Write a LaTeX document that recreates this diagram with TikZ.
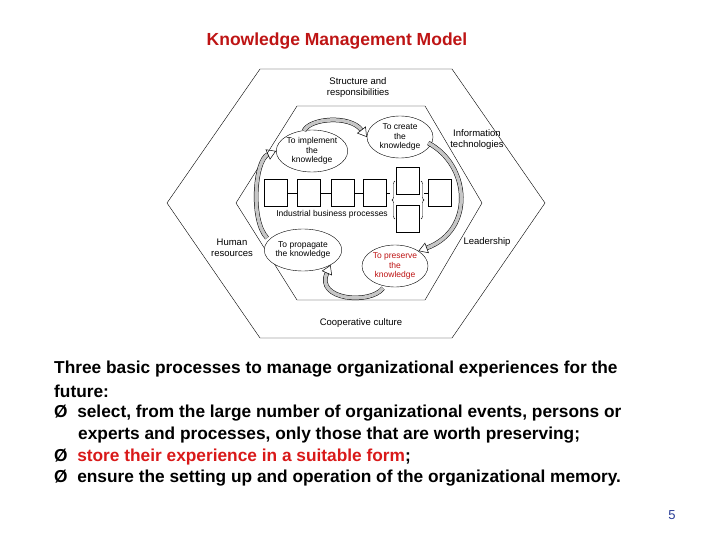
\documentclass[tikz,border=0pt]{standalone}
\usepackage{fontspec}
\setmainfont{Liberation Sans}
\usetikzlibrary{arrows.meta,decorations.pathreplacing,shapes.geometric}
\begin{document}
\begin{tikzpicture}[x=1pt,y=-1pt,
  lbl/.style={font=\fontsize{9.5}{11}\selectfont,align=center,inner sep=0pt},
  proc/.style={draw,ellipse,minimum width=66pt,minimum height=42pt,fill=white,font=\fontsize{8.5}{9.5}\selectfont,align=center,inner sep=0pt},
  bx/.style={draw,minimum width=23pt,minimum height=27pt,inner sep=0pt,fill=white},
  flow/.style={draw,double=gray!45,double distance=3.5pt,line width=0.5pt,-{Triangle[open,length=9pt,width=11pt]}},
  body/.style={font=\bfseries\fontsize{17.3}{20}\selectfont,anchor=west,inner sep=0pt}]
\useasboundingbox (0,0) rectangle (720,540);
\node[font=\bfseries\fontsize{17.5}{20}\selectfont,text={rgb,255:red,190;green,20;blue,20}] (title) at (337,41) {Knowledge Management Model};
\draw (260,69) -- (452,69) -- (545,203) -- (452,338) -- (260,338) -- (167,203) -- cycle;
\draw (297,106) -- (425,106) -- (482,203) -- (425,300) -- (297,300) -- (236,203) -- cycle;
\node[lbl] (sr) at (358,88) {Structure and\\responsibilities};
\node[lbl] (it) at (477,140) {Information\\technologies};
\node[lbl] (hr) at (232,248) {Human\\resources};
\node[lbl] (ld) at (487,242) {Leadership};
\node[lbl] (cc) at (361,323) {Cooperative culture};
% boxes
\node[bx] (b1) at (276,193) {};
\node[bx] (b2) at (309,193) {};
\node[bx] (b3) at (343,193) {};
\node[bx] (b4) at (375,193) {};
\node[bx] (b5) at (408,181) {};
\node[bx] (b6) at (408,219) {};
\node[bx] (b7) at (440,193) {};
\draw (b1) -- (b2); \draw (b2) -- (b3); \draw (b3) -- (b4);
\draw (b4.east) -- (390,193);
\draw[decorate,decoration={brace,amplitude=3pt}] (395,219) -- (395,181);
\draw[decorate,decoration={brace,amplitude=3pt}] (421,181) -- (421,219);
\draw (424,193) -- (b7.west);
\node[lbl,font=\fontsize{8.5}{10}\selectfont] (ibp) at (332,214) {Industrial business processes};
% processes
\node[proc] (impl) at (312,151) {To implement\\the\\knowledge};
\node[proc] (crea) at (400,137) {To create\\the\\knowledge};
\node[proc] (prop) at (303,250) {To propagate\\the knowledge};
\node[proc,text={rgb,255:red,190;green,20;blue,20}] (pres) at (395,266) {To preserve\\the\\knowledge};
% flows
\draw[flow] (impl.north) ++(-8,1) .. controls (310,118) and (350,115) .. (crea.west);
\draw[flow] (crea.east) ++(-5,6) .. controls (470,165) and (475,230) .. (pres.north east);
\draw[flow] (pres.south) ++(-12,1) .. controls (370,305) and (315,300) .. (prop.south east);
\draw[flow] (prop.west) ++(3,-12) .. controls (250,220) and (255,160) .. (impl.west);
% text
\node[body] (t1) at (54,369) {Three basic processes to manage organizational experiences for the};
\node[body] (t2) at (54,391) {future:};
\node[body] (t3) at (54,413) {Ø\ \ select, from the large number of organizational events, persons or};
\node[body] (t4) at (78,435) {experts and processes, only those that are worth preserving;};
\node[body] (t5) at (54,457) {Ø\ \ \textcolor[rgb]{0.85,0.1,0.1}{store their experience in a suitable form};};
\node[body] (t6) at (54,478) {Ø\ \ ensure the setting up and operation of the organizational memory.};
\node[font=\fontsize{13}{14}\selectfont,text={rgb,255:red,40;green,60;blue,150}] (pg) at (672,515) {5};
\end{tikzpicture}
\end{document}
